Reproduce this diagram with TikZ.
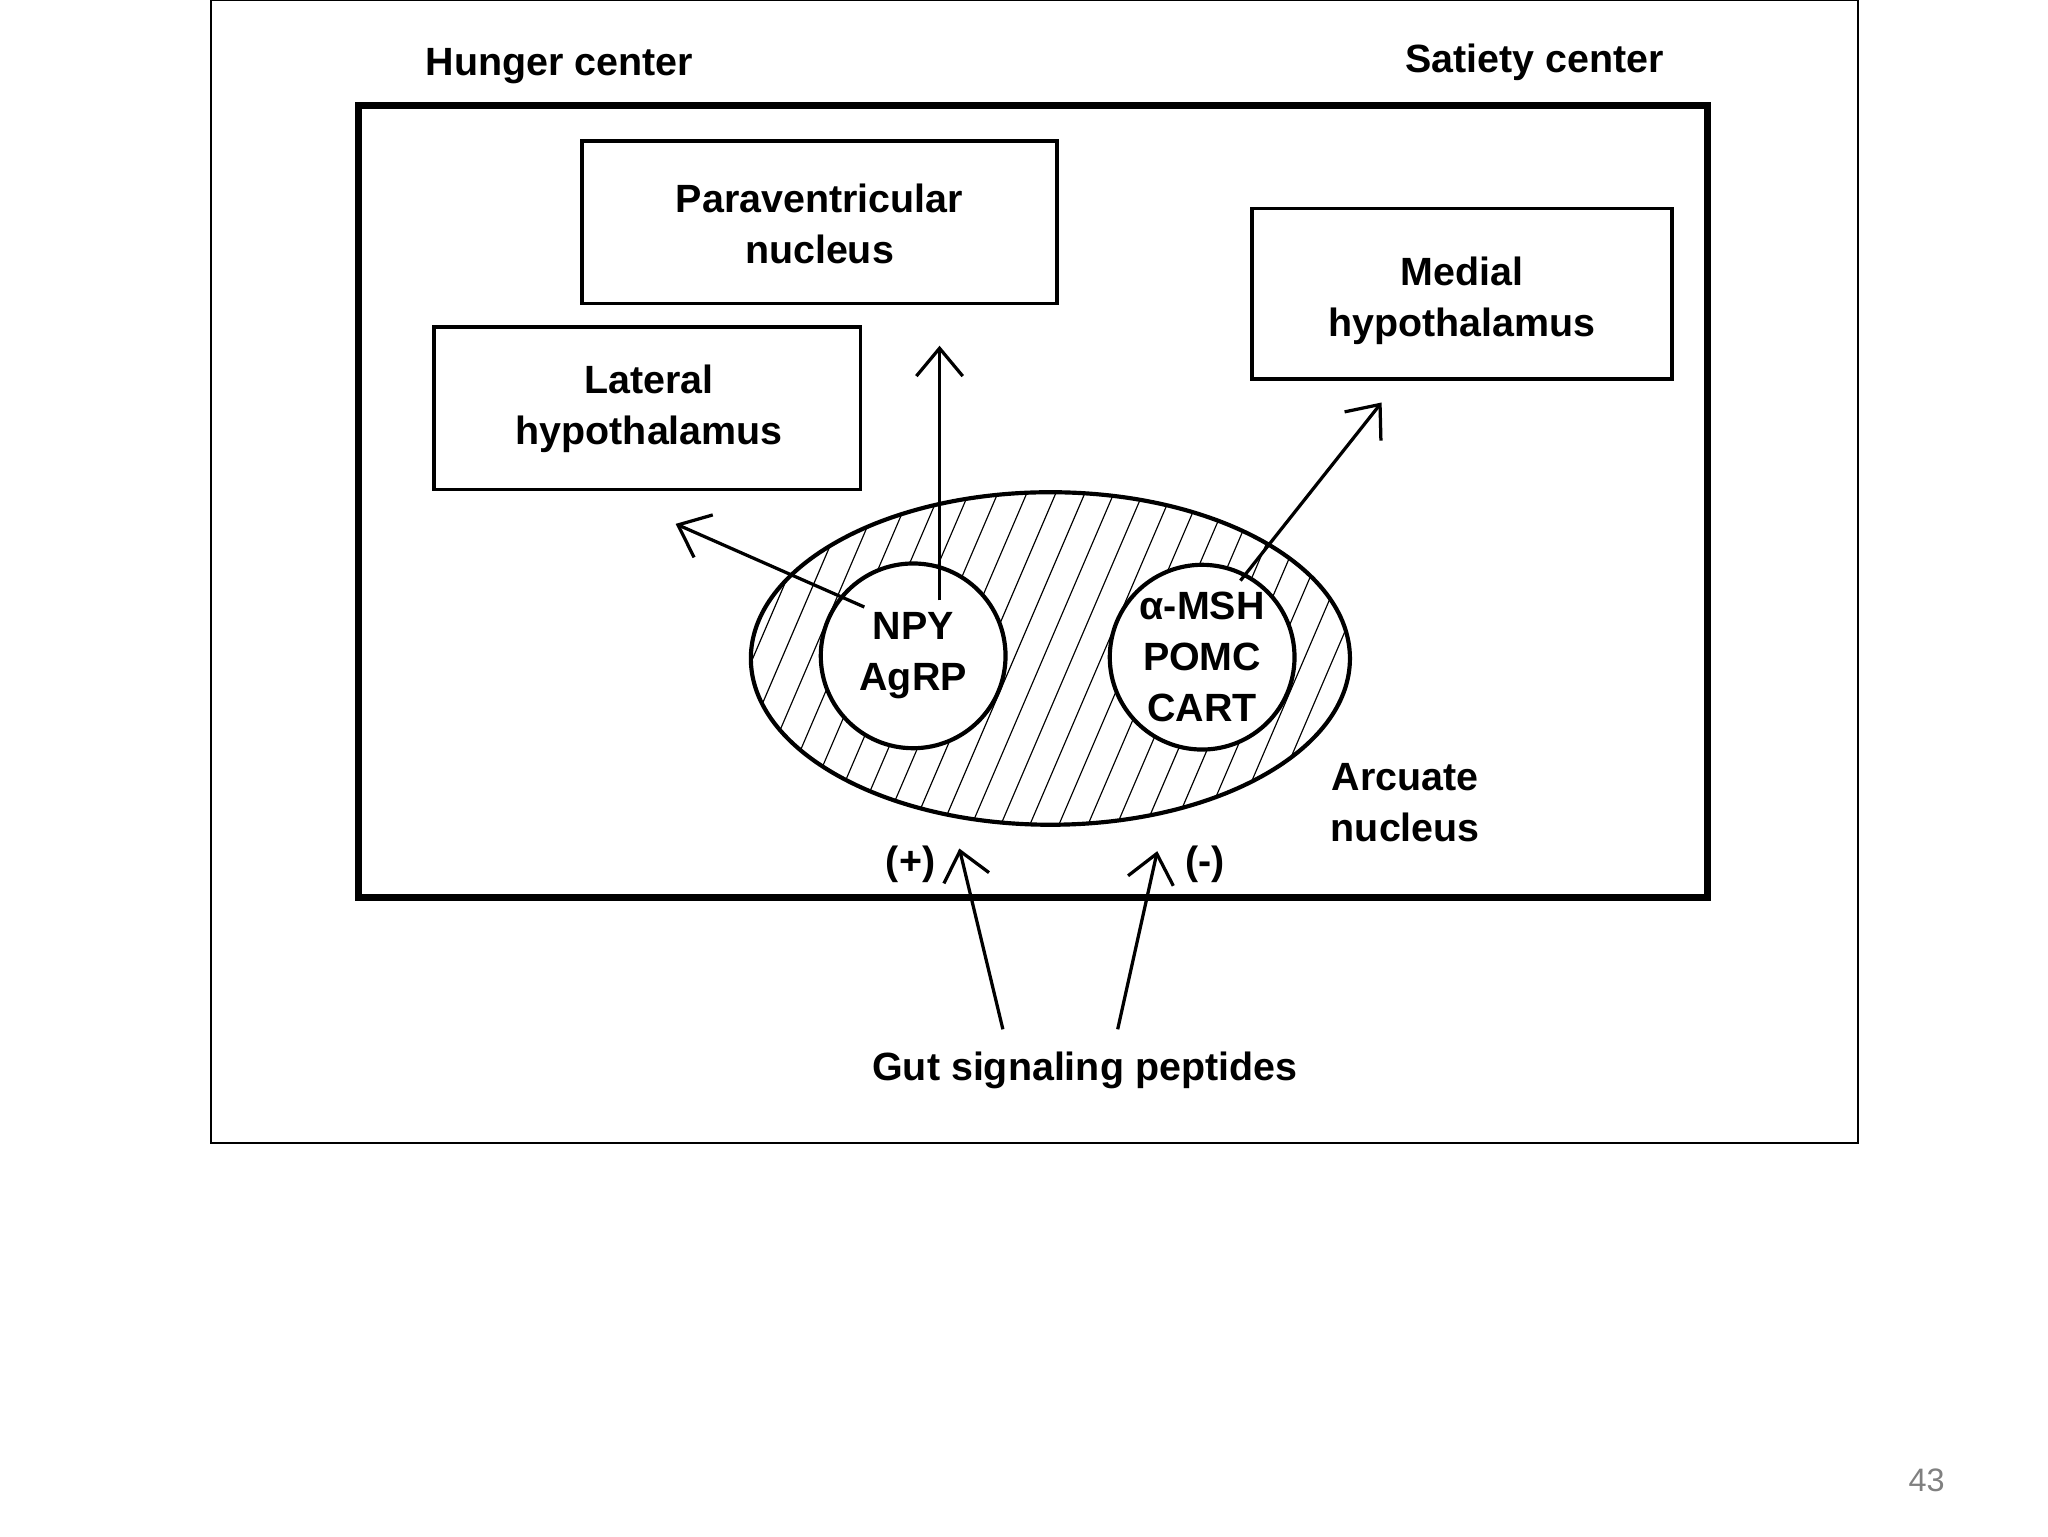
\documentclass[tikz,border=0pt]{standalone}
\usepackage{fontspec}
\setmainfont{Liberation Sans}
\usetikzlibrary{arrows.meta}
\begin{document}
\begin{tikzpicture}[x=0.02cm,y=-0.02cm,
  lbl/.style={font=\bfseries\fontsize{17}{22}\selectfont,align=center,inner sep=0},
  box/.style={draw,line width=1.6pt,fill=white},
  arr/.style={line width=1.4pt,-{Straight Barb[length=12pt,width=20pt,line width=1.4pt]}}]
\useasboundingbox (0,0) rectangle (1552,1164);
\draw[line width=0.8pt] (160,0) rectangle (1408,866);
\draw[line width=3pt] (272,80) rectangle (1294,680);
\node[lbl] (hc) at (424,50) {Hunger center};
\node[lbl] (sc) at (1163,47) {Satiety center};
\draw[box] (441,107) rectangle (801,230);
\node[lbl] (pvn) at (621,170) {Paraventricular\\nucleus};
\draw[box] (949,158) rectangle (1267,287);
\node[lbl] (mh) at (1108,228) {Medial\\hypothalamus};
\draw[box] (329,248) rectangle (652,371);
\node[lbl] (lh) at (492,310) {Lateral\\hypothalamus};
% ellipse with hatching
\begin{scope}
\clip (796,499) ellipse [x radius=227, y radius=126];
\foreach \x in {400,422,...,1100}
  \draw[line width=0.5pt] (\x,640) -- (\x+120,360);
\end{scope}
\draw[line width=1.8pt] (796,499) ellipse [x radius=227, y radius=126];
\node[circle,draw,line width=1.8pt,fill=white,minimum size=140*0.02cm] (npy) at (692,497) {};
\node[lbl] at (npy) {NPY\\AgRP};
\node[circle,draw,line width=1.8pt,fill=white,minimum size=140*0.02cm] (msh) at (911,498) {};
\node[lbl] at (msh) {α-MSH\\POMC\\CART};
\coordinate (a1s) at (655,460); \coordinate (a1e) at (512,397);
\coordinate (a2s) at (712,455); \coordinate (a2e) at (712,262);
\coordinate (a3s) at (940,440); \coordinate (a3e) at (1047,305);
\coordinate (g1s) at (760,780); \coordinate (g1e) at (727,643);
\coordinate (g2s) at (847,780); \coordinate (g2e) at (877,645);
\draw[arr] (a1s) -- (a1e);
\draw[arr] (a2s) -- (a2e);
\draw[arr] (a3s) -- (a3e);
\draw[arr] (g1s) -- (g1e);
\draw[arr] (g2s) -- (g2e);
\node[lbl] (plus) at (690,655) {(+)};
\node[lbl] (minus) at (913,655) {(-)};
\node[lbl] (arc) at (1065,608) {Arcuate\\nucleus};
\node[lbl] (gut) at (822,811) {Gut signaling peptides};
\node[font=\fontsize{14}{16}\selectfont,text=gray] (pg) at (1460,1122) {43};
\end{tikzpicture}
\end{document}
